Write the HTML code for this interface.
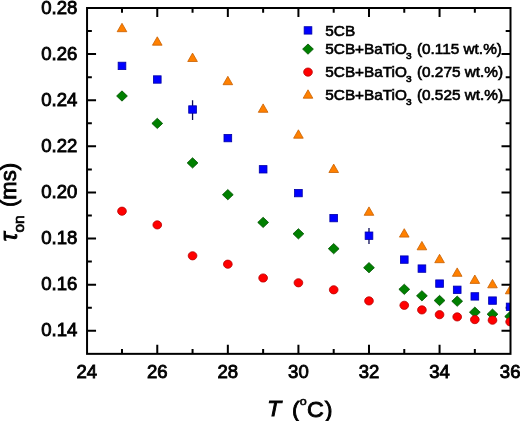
<!DOCTYPE html>
<html><head><meta charset="utf-8"><style>
html,body{margin:0;padding:0;background:#fff;width:520px;height:421px;overflow:hidden}
svg{display:block}
</style></head><body>
<svg width="520" height="421" viewBox="0 0 520 421">
<rect width="520" height="421" fill="#fff"/>
<defs><clipPath id="pc"><rect x="87.05" y="8.0" width="423.45" height="345.85"/></clipPath></defs>
<path d="M121.99 353.85V349.05M121.99 8.00V12.80M157.27 353.85V344.85M157.27 8.00V17.00M192.56 353.85V349.05M192.56 8.00V12.80M227.84 353.85V344.85M227.84 8.00V17.00M263.13 353.85V349.05M263.13 8.00V12.80M298.42 353.85V344.85M298.42 8.00V17.00M333.70 353.85V349.05M333.70 8.00V12.80M368.99 353.85V344.85M368.99 8.00V17.00M404.27 353.85V349.05M404.27 8.00V12.80M439.56 353.85V344.85M439.56 8.00V17.00M474.84 353.85V349.05M474.84 8.00V12.80M87.05 330.79H96.05M510.50 330.79H501.50M87.05 307.74H91.85M510.50 307.74H505.70M87.05 284.68H96.05M510.50 284.68H501.50M87.05 261.62H91.85M510.50 261.62H505.70M87.05 238.57H96.05M510.50 238.57H501.50M87.05 215.51H91.85M510.50 215.51H505.70M87.05 192.45H96.05M510.50 192.45H501.50M87.05 169.40H91.85M510.50 169.40H505.70M87.05 146.34H96.05M510.50 146.34H501.50M87.05 123.28H91.85M510.50 123.28H505.70M87.05 100.23H96.05M510.50 100.23H501.50M87.05 77.17H91.85M510.50 77.17H505.70M87.05 54.11H96.05M510.50 54.11H501.50M87.05 31.06H91.85M510.50 31.06H505.70" stroke="#000" stroke-width="2" fill="none"/>
<g clip-path="url(#pc)"><path d="M192.56 100.3V119.9M368.99 228V244" stroke="#0c0c58" stroke-width="1.3" fill="none"/><rect x="118.14" y="62.20" width="7.70" height="7.40" fill="#0000ff" stroke="#0000a8" stroke-width="0.8"/><rect x="153.42" y="75.80" width="7.70" height="7.40" fill="#0000ff" stroke="#0000a8" stroke-width="0.8"/><rect x="188.71" y="105.80" width="7.70" height="7.40" fill="#0000ff" stroke="#0000a8" stroke-width="0.8"/><rect x="223.99" y="134.40" width="7.70" height="7.40" fill="#0000ff" stroke="#0000a8" stroke-width="0.8"/><rect x="259.28" y="165.60" width="7.70" height="7.40" fill="#0000ff" stroke="#0000a8" stroke-width="0.8"/><rect x="294.56" y="189.40" width="7.70" height="7.40" fill="#0000ff" stroke="#0000a8" stroke-width="0.8"/><rect x="329.85" y="214.40" width="7.70" height="7.40" fill="#0000ff" stroke="#0000a8" stroke-width="0.8"/><rect x="365.14" y="232.00" width="7.70" height="7.40" fill="#0000ff" stroke="#0000a8" stroke-width="0.8"/><rect x="400.42" y="255.90" width="7.70" height="7.40" fill="#0000ff" stroke="#0000a8" stroke-width="0.8"/><rect x="418.07" y="264.90" width="7.70" height="7.40" fill="#0000ff" stroke="#0000a8" stroke-width="0.8"/><rect x="435.71" y="279.90" width="7.70" height="7.40" fill="#0000ff" stroke="#0000a8" stroke-width="0.8"/><rect x="453.35" y="286.10" width="7.70" height="7.40" fill="#0000ff" stroke="#0000a8" stroke-width="0.8"/><rect x="470.99" y="292.70" width="7.70" height="7.40" fill="#0000ff" stroke="#0000a8" stroke-width="0.8"/><rect x="488.64" y="296.90" width="7.70" height="7.40" fill="#0000ff" stroke="#0000a8" stroke-width="0.8"/><rect x="506.28" y="303.10" width="7.70" height="7.40" fill="#0000ff" stroke="#0000a8" stroke-width="0.8"/><path d="M121.99 90.86L127.38 96.00L121.99 101.14L116.60 96.00Z" fill="#008000" stroke="#005000" stroke-width="0.8"/><path d="M157.27 118.26L162.66 123.40L157.27 128.54L151.88 123.40Z" fill="#008000" stroke="#005000" stroke-width="0.8"/><path d="M192.56 157.76L197.95 162.90L192.56 168.04L187.17 162.90Z" fill="#008000" stroke="#005000" stroke-width="0.8"/><path d="M227.84 189.56L233.23 194.70L227.84 199.84L222.45 194.70Z" fill="#008000" stroke="#005000" stroke-width="0.8"/><path d="M263.13 217.26L268.52 222.40L263.13 227.54L257.74 222.40Z" fill="#008000" stroke="#005000" stroke-width="0.8"/><path d="M298.42 228.66L303.81 233.80L298.42 238.94L293.03 233.80Z" fill="#008000" stroke="#005000" stroke-width="0.8"/><path d="M333.70 243.56L339.09 248.70L333.70 253.84L328.31 248.70Z" fill="#008000" stroke="#005000" stroke-width="0.8"/><path d="M368.99 262.56L374.38 267.70L368.99 272.84L363.60 267.70Z" fill="#008000" stroke="#005000" stroke-width="0.8"/><path d="M404.27 284.16L409.66 289.30L404.27 294.44L398.88 289.30Z" fill="#008000" stroke="#005000" stroke-width="0.8"/><path d="M421.92 290.66L427.31 295.80L421.92 300.94L416.53 295.80Z" fill="#008000" stroke="#005000" stroke-width="0.8"/><path d="M439.56 295.36L444.95 300.50L439.56 305.64L434.17 300.50Z" fill="#008000" stroke="#005000" stroke-width="0.8"/><path d="M457.20 296.06L462.59 301.20L457.20 306.34L451.81 301.20Z" fill="#008000" stroke="#005000" stroke-width="0.8"/><path d="M474.84 307.06L480.23 312.20L474.84 317.34L469.45 312.20Z" fill="#008000" stroke="#005000" stroke-width="0.8"/><path d="M492.49 309.06L497.88 314.20L492.49 319.34L487.10 314.20Z" fill="#008000" stroke="#005000" stroke-width="0.8"/><path d="M510.13 311.36L515.52 316.50L510.13 321.64L504.74 316.50Z" fill="#008000" stroke="#005000" stroke-width="0.8"/><ellipse cx="121.99" cy="211.20" rx="4.35" ry="4.10" fill="#ff0000" stroke="#b80000" stroke-width="0.8"/><ellipse cx="157.27" cy="224.90" rx="4.35" ry="4.10" fill="#ff0000" stroke="#b80000" stroke-width="0.8"/><ellipse cx="192.56" cy="255.80" rx="4.35" ry="4.10" fill="#ff0000" stroke="#b80000" stroke-width="0.8"/><ellipse cx="227.84" cy="264.20" rx="4.35" ry="4.10" fill="#ff0000" stroke="#b80000" stroke-width="0.8"/><ellipse cx="263.13" cy="278.00" rx="4.35" ry="4.10" fill="#ff0000" stroke="#b80000" stroke-width="0.8"/><ellipse cx="298.42" cy="282.80" rx="4.35" ry="4.10" fill="#ff0000" stroke="#b80000" stroke-width="0.8"/><ellipse cx="333.70" cy="289.80" rx="4.35" ry="4.10" fill="#ff0000" stroke="#b80000" stroke-width="0.8"/><ellipse cx="368.99" cy="300.90" rx="4.35" ry="4.10" fill="#ff0000" stroke="#b80000" stroke-width="0.8"/><ellipse cx="404.27" cy="305.30" rx="4.35" ry="4.10" fill="#ff0000" stroke="#b80000" stroke-width="0.8"/><ellipse cx="421.92" cy="309.90" rx="4.35" ry="4.10" fill="#ff0000" stroke="#b80000" stroke-width="0.8"/><ellipse cx="439.56" cy="314.70" rx="4.35" ry="4.10" fill="#ff0000" stroke="#b80000" stroke-width="0.8"/><ellipse cx="457.20" cy="316.90" rx="4.35" ry="4.10" fill="#ff0000" stroke="#b80000" stroke-width="0.8"/><ellipse cx="474.84" cy="319.60" rx="4.35" ry="4.10" fill="#ff0000" stroke="#b80000" stroke-width="0.8"/><ellipse cx="492.49" cy="320.20" rx="4.35" ry="4.10" fill="#ff0000" stroke="#b80000" stroke-width="0.8"/><ellipse cx="510.13" cy="321.80" rx="4.35" ry="4.10" fill="#ff0000" stroke="#b80000" stroke-width="0.8"/><path d="M121.99 23.30L126.81 31.70L117.17 31.70Z" fill="#ff8000" stroke="#c86000" stroke-width="0.8" stroke-linejoin="round"/><path d="M157.27 36.80L162.09 45.20L152.45 45.20Z" fill="#ff8000" stroke="#c86000" stroke-width="0.8" stroke-linejoin="round"/><path d="M192.56 53.10L197.38 61.50L187.74 61.50Z" fill="#ff8000" stroke="#c86000" stroke-width="0.8" stroke-linejoin="round"/><path d="M227.84 76.30L232.66 84.70L223.02 84.70Z" fill="#ff8000" stroke="#c86000" stroke-width="0.8" stroke-linejoin="round"/><path d="M263.13 103.90L267.95 112.30L258.31 112.30Z" fill="#ff8000" stroke="#c86000" stroke-width="0.8" stroke-linejoin="round"/><path d="M298.42 129.80L303.24 138.20L293.60 138.20Z" fill="#ff8000" stroke="#c86000" stroke-width="0.8" stroke-linejoin="round"/><path d="M333.70 164.10L338.52 172.50L328.88 172.50Z" fill="#ff8000" stroke="#c86000" stroke-width="0.8" stroke-linejoin="round"/><path d="M368.99 206.90L373.81 215.30L364.17 215.30Z" fill="#ff8000" stroke="#c86000" stroke-width="0.8" stroke-linejoin="round"/><path d="M404.27 228.70L409.09 237.10L399.45 237.10Z" fill="#ff8000" stroke="#c86000" stroke-width="0.8" stroke-linejoin="round"/><path d="M421.92 241.40L426.74 249.80L417.10 249.80Z" fill="#ff8000" stroke="#c86000" stroke-width="0.8" stroke-linejoin="round"/><path d="M439.56 254.30L444.38 262.70L434.74 262.70Z" fill="#ff8000" stroke="#c86000" stroke-width="0.8" stroke-linejoin="round"/><path d="M457.20 267.90L462.02 276.30L452.38 276.30Z" fill="#ff8000" stroke="#c86000" stroke-width="0.8" stroke-linejoin="round"/><path d="M474.84 275.00L479.66 283.40L470.02 283.40Z" fill="#ff8000" stroke="#c86000" stroke-width="0.8" stroke-linejoin="round"/><path d="M492.49 279.40L497.31 287.80L487.67 287.80Z" fill="#ff8000" stroke="#c86000" stroke-width="0.8" stroke-linejoin="round"/><path d="M510.13 285.40L514.95 293.80L505.31 293.80Z" fill="#ff8000" stroke="#c86000" stroke-width="0.8" stroke-linejoin="round"/></g>
<rect x="87.05" y="8.0" width="423.45" height="345.85" fill="none" stroke="#000" stroke-width="2"/>
<g font-family="Liberation Sans, Arial, sans-serif" font-size="18.2" fill="#000" stroke="#000" stroke-width="0.85"><text transform="translate(86.70 378.3) scale(1.02 1)" text-anchor="middle">24</text><text transform="translate(157.27 378.3) scale(1.02 1)" text-anchor="middle">26</text><text transform="translate(227.84 378.3) scale(1.02 1)" text-anchor="middle">28</text><text transform="translate(298.42 378.3) scale(1.02 1)" text-anchor="middle">30</text><text transform="translate(368.99 378.3) scale(1.02 1)" text-anchor="middle">32</text><text transform="translate(439.56 378.3) scale(1.02 1)" text-anchor="middle">34</text><text transform="translate(510.13 378.3) scale(1.02 1)" text-anchor="middle">36</text><text transform="translate(77.3 336.29) scale(1.02 1)" text-anchor="end">0.14</text><text transform="translate(77.3 290.18) scale(1.02 1)" text-anchor="end">0.16</text><text transform="translate(77.3 244.07) scale(1.02 1)" text-anchor="end">0.18</text><text transform="translate(77.3 197.95) scale(1.02 1)" text-anchor="end">0.20</text><text transform="translate(77.3 151.84) scale(1.02 1)" text-anchor="end">0.22</text><text transform="translate(77.3 105.73) scale(1.02 1)" text-anchor="end">0.24</text><text transform="translate(77.3 59.61) scale(1.02 1)" text-anchor="end">0.26</text><text transform="translate(77.3 13.50) scale(1.02 1)" text-anchor="end">0.28</text></g>
<g font-family="Liberation Sans, Arial, sans-serif" font-size="14.4" fill="#000" stroke="#000" stroke-width="0.6"><rect x="304.15" y="26.70" width="7.70" height="7.40" fill="#0000ff" stroke="#0000a8" stroke-width="0.8"/><text transform="translate(325.3 36.0) scale(1.065 1)">5CB</text><path d="M308.00 43.96L313.39 49.10L308.00 54.24L302.61 49.10Z" fill="#008000" stroke="#005000" stroke-width="0.8"/><text transform="translate(325.3 54.4) scale(1.065 1)">5CB+BaTiO<tspan font-size="9.5" dx="-0.9" dy="4.9">3</tspan><tspan dx="1.1" dy="-4.9"> (0.115 wt.%)</tspan></text><ellipse cx="308.00" cy="72.10" rx="4.35" ry="4.10" fill="#ff0000" stroke="#b80000" stroke-width="0.8"/><text transform="translate(325.3 76.9) scale(1.065 1)">5CB+BaTiO<tspan font-size="9.5" dx="-0.9" dy="4.9">3</tspan><tspan dx="1.1" dy="-4.9"> (0.275 wt.%)</tspan></text><path d="M308.00 89.80L312.82 98.20L303.18 98.20Z" fill="#ff8000" stroke="#c86000" stroke-width="0.8" stroke-linejoin="round"/><text transform="translate(325.3 99.8) scale(1.065 1)">5CB+BaTiO<tspan font-size="9.5" dx="-0.9" dy="4.9">3</tspan><tspan dx="1.1" dy="-4.9"> (0.525 wt.%)</tspan></text></g>
<g font-family="Liberation Sans, Arial, sans-serif" font-size="22" fill="#000" stroke="#000" stroke-width="0.85">
<text transform="translate(267.2 416.2) scale(1.0 1)" font-style="italic" font-size="22.6" stroke-width="1.0">T</text>
<text transform="translate(292.0 416.5) scale(1.06 1)">(</text>
<text transform="translate(299.7 405.0) scale(1.25 1)" font-size="10" stroke-width="0.5">o</text>
<text transform="translate(307.0 416.5) scale(1.06 1)">C</text>
<text transform="translate(324.8 416.5) scale(1.06 1)">)</text>
<text transform="translate(17.0 241.2) rotate(-90)" font-style="italic" font-size="24" stroke-width="0.9">τ</text>
<text transform="translate(24.0 232.6) rotate(-90)" font-size="15.5" stroke-width="0.7">on</text>
<text transform="translate(16.3 207.0) rotate(-90)">(ms)</text>
</g>
</svg>
</body></html>
